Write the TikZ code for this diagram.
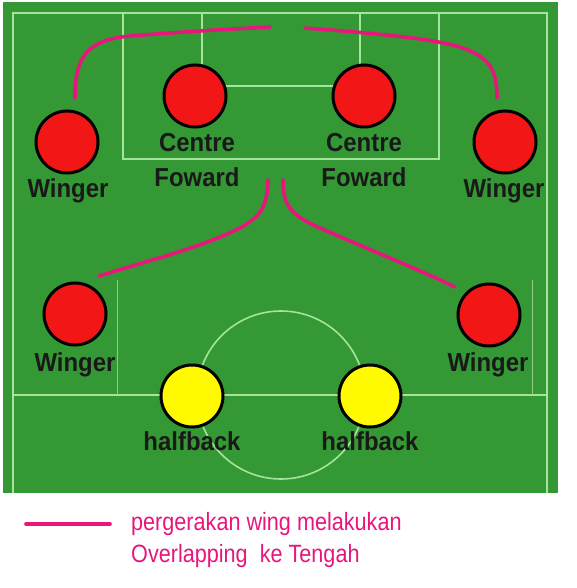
\documentclass[tikz,border=0pt]{standalone}
\usepackage{fontspec}
\setmainfont{Liberation Sans}
\definecolor{pitch}{RGB}{52,152,52}
\definecolor{chalk}{RGB}{165,228,155}
\definecolor{thinln}{RGB}{150,200,140}
\definecolor{pinkln}{RGB}{232,22,124}
\definecolor{redp}{RGB}{242,22,22}
\definecolor{yelp}{RGB}{255,250,0}
\tikzset{
  fieldline/.style={draw=chalk, line width=2.2pt},
  thinline/.style={draw=thinln, line width=0.9pt},
  player/.style={circle, draw=black, line width=3pt, minimum size=62pt, inner sep=0pt},
  redplayer/.style={player, fill=redp},
  yelplayer/.style={player, fill=yelp},
  lbl/.style={anchor=base, inner sep=0pt, xscale=0.92, font=\fontsize{26}{30}\selectfont\bfseries, text=black!90},
  movepath/.style={draw=pinkln, line width=3.6pt, line cap=round},
  legendtxt/.style={anchor=base west, inner sep=0pt, xscale=0.865, font=\fontsize{25}{30}\selectfont, text=pinkln}
}
\begin{document}
\begin{tikzpicture}[x=1pt, y=-1pt]
\useasboundingbox (0,0) rectangle (576,588);
\fill[white] (0,0) rectangle (576,588);
% pitch
\fill[pitch] (3,2) rectangle (558,493);
\draw[fieldline] (13,493) -- (13,13) -- (547,13) -- (547,493);
\draw[fieldline] (123,13) -- (123,159) -- (439,159) -- (439,13);
\draw[fieldline] (202,13) -- (202,86) -- (360,86) -- (360,13);
\draw[fieldline] (13,395) -- (547,395);
\draw[draw=chalk, line width=1.6pt] (281,395) circle (84);
\draw[thinline] (117,280) -- (117,395);
\draw[thinline] (532,280) -- (532,395);
% players
\node[redplayer] (wl1) at (67,142) {};
\node[redplayer] (cf1) at (195,96) {};
\node[redplayer] (cf2) at (364,96) {};
\node[redplayer] (wr1) at (505,142) {};
\node[redplayer] (wl2) at (75,314) {};
\node[redplayer] (wr2) at (489,315) {};
\node[yelplayer] (hb1) at (192,396) {};
\node[yelplayer] (hb2) at (370,396) {};
% labels
\node[lbl] (twl1) at (68,197) {Winger};
\node[lbl] (tcf1a) at (197,152) {Centre};
\node[lbl] (tcf1b) at (197,186) {Foward};
\node[lbl] (tcf2a) at (364,152) {Centre};
\node[lbl] (tcf2b) at (364,186) {Foward};
\node[lbl] (twr1) at (504,197) {Winger};
\node[lbl] (twl2) at (75,371) {Winger};
\node[lbl] (twr2) at (488,371) {Winger};
\node[lbl] (thb1) at (192,450) {halfback};
\node[lbl] (thb2) at (370,450) {halfback};
% movement paths
\coordinate (p1s) at (75,98);
\coordinate (p1e) at (270,27);
\coordinate (p2s) at (305,28);
\coordinate (p2e) at (497,98);
\coordinate (p3s) at (268,180);
\coordinate (p3e) at (99,276);
\coordinate (p4s) at (283,180);
\coordinate (p4e) at (455,287);
\draw[movepath] (p1s) .. controls (75,55) and (88,40) .. (130,36) .. controls (180,32) and (230,29) .. (p1e);
\draw[movepath] (p2s) .. controls (370,33) and (430,38) .. (460,47) .. controls (490,57) and (497,70) .. (p2e);
\draw[movepath] (p3s) .. controls (267,205) and (263,215) .. (240,228) .. controls (200,248) and (150,260) .. (p3e);
\draw[movepath] (p4s) .. controls (283,205) and (290,215) .. (320,228) .. controls (370,250) and (420,270) .. (p4e);
% legend
\coordinate (lg1) at (26,524);
\coordinate (lg2) at (110,524);
\draw[movepath] (lg1) -- (lg2);
\node[legendtxt] (lt1) at (131,530) {pergerakan wing melakukan};
\node[legendtxt] (lt2) at (131,562) {Overlapping\ \ ke Tengah};
\end{tikzpicture}
\end{document}
